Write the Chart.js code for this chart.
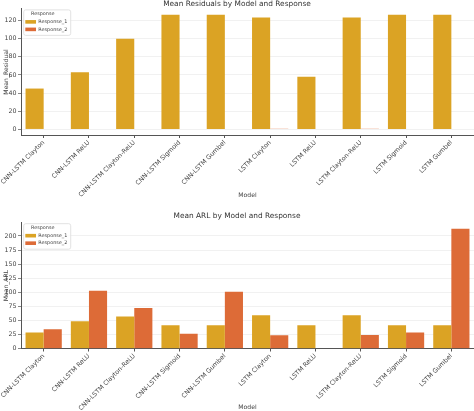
<!DOCTYPE html>
<html>
<head>
<meta charset="utf-8">
<title>Mean Residuals and ARL by Model</title>
<script src="https://cdn.jsdelivr.net/npm/chart.js@4.4.0/dist/chart.umd.min.js"></script>
<style>
  html, body { margin: 0; padding: 0; background: #fff; }
  canvas { display: block; }
</style>
</head>
<body>
<canvas id="residuals" width="474" height="205"></canvas>
<canvas id="arl" width="474" height="206"></canvas>
<script>
const models = [
  'CNN-LSTM Clayton', 'CNN-LSTM ReLU', 'CNN-LSTM Clayton-ReLU', 'CNN-LSTM Sigmoid', 'CNN-LSTM Gumbel',
  'LSTM Clayton', 'LSTM ReLU', 'LSTM Clayton-ReLU', 'LSTM Sigmoid', 'LSTM Gumbel'
];
const seriesNames = ['Response_1', 'Response_2'];

const residualResp1 = [45, 63, 100, 126.5, 126.5, 123.5, 58, 123.5, 126.5, 126.5];
const residualResp2 = [null, null, null, null, null, 0.6, null, 0.6, null, null];
const residualTicks = [0, 20, 40, 60, 80, 100, 120];

const arlResp1 = [28.5, 48.5, 57, 41.5, 41.5, 59, 41.5, 59, 41.5, 41.5];
const arlResp2 = [34, 102.5, 72, 26, 101, 23.5, null, 24, 28.5, 213];
const arlTicks = [0, 25, 50, 75, 100, 125, 150, 175, 200];

const colors = ['#DBA324', '#DD6B37'];

Chart.defaults.font.family = '"DejaVu Sans", sans-serif';
Chart.defaults.color = '#444';

// legend frame drawn inside the plot, top-left, like matplotlib
const legendBox = {
  id: 'legendBox',
  afterDatasetsDraw(chart) {
    const ctx = chart.ctx;
    const area = chart.chartArea;
    const x = area.left + 2.7;
    const y = area.top + 1;
    const w = 47;
    const h = 25.5;

    ctx.save();
    ctx.fillStyle = 'rgba(255,255,255,0.85)';
    ctx.strokeStyle = '#dadada';
    ctx.lineWidth = 0.8;
    ctx.beginPath();
    ctx.roundRect(x, y, w, h, 2);
    ctx.fill();
    ctx.stroke();

    ctx.font = '4.9px "DejaVu Sans"';
    ctx.fillStyle = '#444';
    ctx.textAlign = 'center';
    ctx.textBaseline = 'middle';
    ctx.fillText('Response', x + 19, y + 4);

    chart.data.datasets.forEach((ds, i) => {
      const ry = y + 12 + i * 7.5;
      ctx.fillStyle = ds.backgroundColor;
      ctx.fillRect(x + 1.6, ry - 1.8, 10.7, 3.6);
      ctx.fillStyle = '#444';
      ctx.textAlign = 'left';
      ctx.fillText(ds.label, x + 14.6, ry);
    });
    ctx.restore();
  }
};

function makeChart(id, title, yTitle, r1, r2, ticks, yMin, yMax, box) {
  return new Chart(document.getElementById(id), {
    type: 'bar',
    data: {
      labels: models,
      datasets: [
        { label: seriesNames[0], data: r1, backgroundColor: colors[0] },
        { label: seriesNames[1], data: r2, backgroundColor: colors[1] }
      ]
    },
    options: {
      responsive: false,
      animation: false,
      devicePixelRatio: 1,
      categoryPercentage: 0.8,
      barPercentage: 1.0,
      layout: { padding: 0 },
      scales: {
        x: {
          afterFit(scale) { scale.height = box.xHeight; },
          ticks: {
            autoSkip: false,
            minRotation: 45,
            maxRotation: 45,
            padding: 1,
            font: { size: 6.3 }
          },
          grid: {
            offset: false,
            drawOnChartArea: false,
            drawTicks: true,
            tickLength: 3,
            tickColor: '#555'
          },
          border: { color: '#555', width: 1 },
          title: {
            display: true,
            text: 'Model',
            font: { size: 6.1 },
            padding: { top: 0, bottom: box.xTitlePad }
          }
        },
        y: {
          min: yMin,
          max: yMax,
          afterFit(scale) { scale.width = 20; },
          afterBuildTicks(scale) {
            scale.ticks = ticks.map(v => ({ value: v }));
          },
          ticks: { padding: 1.5, font: { size: 6.3 } },
          grid: {
            color: '#ebebeb',
            lineWidth: 0.7,
            drawTicks: true,
            tickLength: 3,
            tickColor: '#555'
          },
          border: { color: '#555', width: 1 },
          title: {
            display: true,
            text: yTitle,
            font: { size: 6.1 },
            padding: { top: 1.3, bottom: 0 }
          }
        }
      },
      plugins: {
        legend: { display: false },
        tooltip: { enabled: false },
        title: {
          display: true,
          text: title,
          color: '#333',
          font: { size: 7.4, weight: 'normal' },
          padding: { top: box.titleTop, bottom: box.titleBottom }
        }
      }
    },
    plugins: [legendBox]
  });
}

makeChart('residuals', 'Mean Residuals by Model and Response', 'Mean_Residual',
  residualResp1, residualResp2, residualTicks, -6.3, 133,
  { xHeight: 70, xTitlePad: 6.3, titleTop: 0, titleBottom: 0 });

makeChart('arl', 'Mean ARL by Model and Response', 'Mean_ARL',
  arlResp1, arlResp2, arlTicks, 0, 223.6,
  { xHeight: 62.5, xTitlePad: 0, titleTop: 6.5, titleBottom: 2.3 });
</script>
</body>
</html>
